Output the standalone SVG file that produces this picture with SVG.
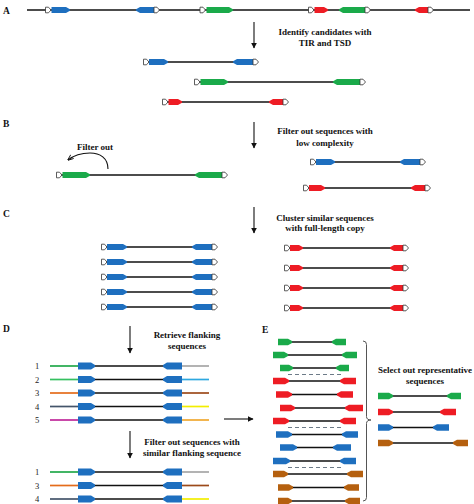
<svg xmlns="http://www.w3.org/2000/svg" width="474" height="504" viewBox="0 0 474 504">
<defs>
<style>
.bg{fill:#fff}
.ln{stroke:#111;stroke-width:1.5;fill:none}
.tsd{fill:#fff;stroke:#333;stroke-width:0.8}
.b{fill:#1e6fbf}
.g{fill:#1aaa4a}
.r{fill:#ee1c24}
.o{fill:#b5600f}
.lbl{font-family:"Liberation Serif",serif;font-weight:bold;font-size:9.5px;fill:#111}
.cap{font-family:"Liberation Serif",serif;font-weight:bold;font-size:9px;fill:#111;text-anchor:middle}
.num{font-family:"Liberation Serif",serif;font-size:8.5px;fill:#222;text-anchor:middle}
.arr{stroke:#111;stroke-width:1.1;fill:none}
.dash{stroke:#6d7b88;stroke-width:1.1;stroke-dasharray:4,3;fill:none}
.fl{stroke-width:1.7;fill:none}
</style>
<marker id="ah" viewBox="0 0 10 10" refX="9" refY="5" markerWidth="6" markerHeight="6" orient="auto" markerUnits="userSpaceOnUse">
<path d="M0,0 L10,5 L0,10 Z" fill="#111"/>
</marker>
<marker id="ah2" viewBox="0 0 10 10" refX="9" refY="5" markerWidth="6" markerHeight="6" orient="auto" markerUnits="userSpaceOnUse">
<path d="M0,1 L10,5 L0,9" fill="none" stroke="#111" stroke-width="1.5"/>
</marker>
</defs>
<rect class="bg" x="0" y="0" width="474" height="504"/>

<!-- Labels -->
<g id="labels">
<text class="lbl" x="3" y="13.5">A</text>
<text class="lbl" x="3" y="126.5">B</text>
<text class="lbl" x="3" y="216.5">C</text>
<text class="lbl" x="3" y="331.5">D</text>
<text class="lbl" x="262" y="332.5">E</text>
</g>

<!-- Connectors -->
<g id="connectors">
<line class="arr" x1="254" y1="22" x2="254" y2="48" marker-end="url(#ah)"/>
<line class="arr" x1="254" y1="122" x2="254" y2="148" marker-end="url(#ah)"/>
<line class="arr" x1="254" y1="207" x2="254" y2="233" marker-end="url(#ah)"/>
<line class="arr" x1="130" y1="326" x2="130" y2="353" marker-end="url(#ah)"/>
<line class="arr" x1="130" y1="431" x2="130" y2="458" marker-end="url(#ah)"/>
<line class="arr" x1="224" y1="419" x2="253" y2="419" marker-end="url(#ah)"/>
<path class="arr" d="M108,169 C108,158 100,153 90,153 C80,153 73,156 68,160" marker-end="url(#ah2)"/>
<path d="M363,341 Q366.5,341 366.5,344.5 V416.5 Q366.5,420 371,420 Q366.5,420 366.5,423.5 V497.5 Q366.5,501 363,501" fill="none" stroke="#555" stroke-width="1"/>
</g>

<!-- Captions -->
<g id="captions">
<text class="cap" x="325" y="35">Identify candidates with</text>
<text class="cap" x="325" y="45.5">TIR and TSD</text>
<text class="cap" x="325" y="133.5">Filter out sequences with</text>
<text class="cap" x="325" y="146">low complexity</text>
<text class="cap" x="95" y="150">Filter out</text>
<text class="cap" x="325" y="220.5">Cluster similar sequences</text>
<text class="cap" x="325" y="231">with full-length copy</text>
<text class="cap" x="187" y="338">Retrieve flanking</text>
<text class="cap" x="187" y="349">sequences</text>
<text class="cap" x="192" y="445">Filter out sequences with</text>
<text class="cap" x="192" y="456">similar flanking sequence</text>
<text class="cap" x="425" y="373">Select out representative</text>
<text class="cap" x="425" y="384">sequences</text>
</g>

<!-- A: genome -->
<g id="genome">
<line class="ln" x1="27" y1="10" x2="470" y2="10"/>
<path class="tsd" d="M45.5,7.2 H48.5 L51,10 L48.5,12.8 H45.5 Z"/>
<path class="b" d="M51.5,7 H66 L70,9.2 V10.8 L66,13 H51.5 Z"/>
<path class="b" d="M154,7 H140 L136,9.2 V10.8 L140,13 H154 Z"/>
<path class="tsd" d="M154,7.2 H157 L159.5,10 L157,12.8 H154 Z"/>
<path class="tsd" d="M200,7.2 H203 L205.5,10 L203,12.8 H200 Z"/>
<path class="g" d="M206.5,7 H229 L233,9.2 V10.8 L229,13 H206.5 Z"/>
<path class="tsd" d="M308.5,7.2 H311.5 L314,10 L311.5,12.8 H308.5 Z"/>
<path class="r" d="M314.5,7 H324 L328,9.2 V10.8 L324,13 H314.5 Z"/>
<path class="g" d="M365,7 H343 L339,9.2 V10.8 L343,13 H365 Z"/>
<path class="tsd" d="M365,7.2 H368 L370.5,10 L368,12.8 H365 Z"/>
<path class="r" d="M428,7 H419 L415,9.2 V10.8 L419,13 H428 Z"/>
<path class="tsd" d="M428,7.2 H431 L433.5,10 L431,12.8 H428 Z"/>
</g>

<!-- A: candidates -->
<g id="cand-blue">
<line class="ln" x1="148" y1="62" x2="254" y2="62"/>
<path class="tsd" d="M143.5,59.2 H146.5 L149,62 L146.5,64.8 H143.5 Z"/>
<path class="b" d="M149,59 H164 L168,61.2 V62.8 L164,65 H149 Z"/>
<path class="b" d="M253,59 H237 L233,61.2 V62.8 L237,65 H253 Z"/>
<path class="tsd" d="M253,59.2 H256 L258.5,62 L256,64.8 H253 Z"/>
</g>
<g id="cand-green">
<line class="ln" x1="199" y1="82" x2="361" y2="82"/>
<path class="tsd" d="M194.5,79.2 H197.5 L200,82 L197.5,84.8 H194.5 Z"/>
<path class="g" d="M200.5,79 H224 L228,81.2 V82.8 L224,85 H200.5 Z"/>
<path class="g" d="M360,79 H337 L333,81.2 V82.8 L337,85 H360 Z"/>
<path class="tsd" d="M360,79.2 H363 L365.5,82 L363,84.8 H360 Z"/>
</g>
<g id="cand-red">
<line class="ln" x1="167" y1="102" x2="284" y2="102"/>
<path class="tsd" d="M162.5,99.2 H165.5 L168,102 L165.5,104.8 H162.5 Z"/>
<path class="r" d="M168.5,99 H178 L182,101.2 V102.8 L178,105 H168.5 Z"/>
<path class="r" d="M283,99 H273 L269,101.2 V102.8 L273,105 H283 Z"/>
<path class="tsd" d="M283,99.2 H286 L288.5,102 L286,104.8 H283 Z"/>
</g>

<!-- B -->
<g id="filtered-green">
<line class="ln" x1="61" y1="175" x2="223" y2="175"/>
<path class="tsd" d="M56.5,172.2 H59.5 L62,175 L59.5,177.8 H56.5 Z"/>
<path class="g" d="M62.5,172 H86 L90,174.2 V175.8 L86,178 H62.5 Z"/>
<path class="g" d="M222,172 H199 L195,174.2 V175.8 L199,178 H222 Z"/>
<path class="tsd" d="M222,172.2 H225 L227.5,175 L225,177.8 H222 Z"/>
</g>
<g id="kept-blue">
<line class="ln" x1="315" y1="162" x2="421" y2="162"/>
<path class="tsd" d="M310.5,159.2 H313.5 L316,162 L313.5,164.8 H310.5 Z"/>
<path class="b" d="M316,159 H331 L335,161.2 V162.8 L331,165 H316 Z"/>
<path class="b" d="M420,159 H404 L400,161.2 V162.8 L404,165 H420 Z"/>
<path class="tsd" d="M420,159.2 H423 L425.5,162 L423,164.8 H420 Z"/>
</g>
<g id="kept-red">
<line class="ln" x1="308" y1="188" x2="426" y2="188"/>
<path class="tsd" d="M303.5,185.2 H306.5 L309,188 L306.5,190.8 H303.5 Z"/>
<path class="r" d="M309,185 H321 L325,187.2 V188.8 L321,191 H309 Z"/>
<path class="r" d="M425,185 H415 L411,187.2 V188.8 L415,191 H425 Z"/>
<path class="tsd" d="M425,185.2 H428 L430.5,188 L428,190.8 H425 Z"/>
</g>

<!-- C: blue cluster -->
<g id="cluster-blue">
<g id="cb1" transform="translate(0,247)">
<line class="ln" x1="106" y1="0" x2="213" y2="0"/>
<path class="tsd" d="M101.5,-2.8 H104.5 L107,0 L104.5,2.8 H101.5 Z"/>
<path class="b" d="M107,-3 H123 L127,-0.8 V0.8 L123,3 H107 Z"/>
<path class="b" d="M212,-3 H196 L192,-0.8 V0.8 L196,3 H212 Z"/>
<path class="tsd" d="M212,-2.8 H215 L217.5,0 L215,2.8 H212 Z"/>
</g>
<use href="#cb1" transform="translate(0,15)"/>
<use href="#cb1" transform="translate(0,30)"/>
<use href="#cb1" transform="translate(0,45)"/>
<use href="#cb1" transform="translate(0,60)"/>
</g>

<!-- C: red cluster -->
<g id="cluster-red">
<g id="cr1" transform="translate(0,248)">
<line class="ln" x1="289" y1="0" x2="404" y2="0"/>
<path class="tsd" d="M284.5,-2.8 H287.5 L290,0 L287.5,2.8 H284.5 Z"/>
<path class="r" d="M290,-3 H299 L303,-0.8 V0.8 L299,3 H290 Z"/>
<path class="r" d="M403,-3 H394 L390,-0.8 V0.8 L394,3 H403 Z"/>
<path class="tsd" d="M403,-2.8 H406 L408.5,0 L406,2.8 H403 Z"/>
</g>
<use href="#cr1" transform="translate(0,20)"/>
<use href="#cr1" transform="translate(0,40)"/>
<use href="#cr1" transform="translate(0,60)"/>
</g>

<!-- D -->
<defs>
<g id="dcore">
<line class="ln" x1="94" y1="0" x2="164" y2="0"/>
<path class="b" d="M78,-3.4 H91 L95,-0.9 V0.9 L91,3.4 H78 Z"/>
<path class="b" d="M182,-3.4 H167 L163,-0.9 V0.9 L167,3.4 H182 Z"/>
</g>
</defs>
<g id="d-row1" transform="translate(0,366)">
<text class="num" x="37" y="3">1</text>
<line class="fl" x1="50" y1="0" x2="79" y2="0" stroke="#22a84a"/>
<line class="fl" x1="181" y1="0" x2="209" y2="0" stroke="#a6a6a6"/>
<use href="#dcore"/>
</g>
<g id="d-row2" transform="translate(0,379.5)">
<text class="num" x="37" y="3">2</text>
<line class="fl" x1="50" y1="0" x2="79" y2="0" stroke="#35c060"/>
<line class="fl" x1="181" y1="0" x2="209" y2="0" stroke="#2ea8e0"/>
<use href="#dcore"/>
</g>
<g id="d-row3" transform="translate(0,393)">
<text class="num" x="37" y="3">3</text>
<line class="fl" x1="50" y1="0" x2="79" y2="0" stroke="#e46c1a"/>
<line class="fl" x1="181" y1="0" x2="209" y2="0" stroke="#9c4a1a"/>
<use href="#dcore"/>
</g>
<g id="d-row4" transform="translate(0,406.5)">
<text class="num" x="37" y="3">4</text>
<line class="fl" x1="50" y1="0" x2="79" y2="0" stroke="#44546a"/>
<line class="fl" x1="181" y1="0" x2="209" y2="0" stroke="#f2ee00"/>
<use href="#dcore"/>
</g>
<g id="d-row5" transform="translate(0,420)">
<text class="num" x="37" y="3">5</text>
<line class="fl" x1="50" y1="0" x2="79" y2="0" stroke="#c0299a"/>
<line class="fl" x1="181" y1="0" x2="209" y2="0" stroke="#f0a830"/>
<use href="#dcore"/>
</g>
<g id="d2-row1" transform="translate(0,472)">
<text class="num" x="37" y="3">1</text>
<line class="fl" x1="50" y1="0" x2="79" y2="0" stroke="#22a84a"/>
<line class="fl" x1="181" y1="0" x2="209" y2="0" stroke="#a6a6a6"/>
<use href="#dcore"/>
</g>
<g id="d2-row3" transform="translate(0,485.5)">
<text class="num" x="37" y="3">3</text>
<line class="fl" x1="50" y1="0" x2="79" y2="0" stroke="#e46c1a"/>
<line class="fl" x1="181" y1="0" x2="209" y2="0" stroke="#9c4a1a"/>
<use href="#dcore"/>
</g>
<g id="d2-row4" transform="translate(0,499)">
<text class="num" x="37" y="3">4</text>
<line class="fl" x1="50" y1="0" x2="79" y2="0" stroke="#44546a"/>
<line class="fl" x1="181" y1="0" x2="209" y2="0" stroke="#f2ee00"/>
<use href="#dcore"/>
</g>

<!-- E: families -->
<g id="e-green">
<line class="ln" x1="290" y1="342" x2="334" y2="342"/>
<path class="g" d="M278,338.7 H288 L292,341.1 V342.9 L288,345.3 H278 Z"/>
<path class="g" d="M346,338.7 H336 L332,341.1 V342.9 L336,345.3 H346 Z"/>
<line class="ln" x1="286" y1="355" x2="344" y2="355"/>
<path class="g" d="M273,351.7 H284 L288,354.1 V355.9 L284,358.3 H273 Z"/>
<path class="g" d="M357,351.7 H346 L342,354.1 V355.9 L346,358.3 H357 Z"/>
<line class="ln" x1="291" y1="368" x2="338" y2="368"/>
<path class="g" d="M280,364.7 H289 L293,367.1 V368.9 L289,371.3 H280 Z"/>
<path class="g" d="M349,364.7 H340 L336,367.1 V368.9 L340,371.3 H349 Z"/>
</g>
<line class="dash" x1="288" y1="374.5" x2="342" y2="374.5"/>
<g id="e-red">
<line class="ln" x1="287" y1="381" x2="342" y2="381"/>
<path class="r" d="M273,377.7 H285 L289,380.1 V381.9 L285,384.3 H273 Z"/>
<path class="r" d="M356,377.7 H344 L340,380.1 V381.9 L344,384.3 H356 Z"/>
<line class="ln" x1="290" y1="394.5" x2="339" y2="394.5"/>
<path class="r" d="M276,391.2 H288 L292,393.6 V395.4 L288,397.8 H276 Z"/>
<path class="r" d="M353,391.2 H341 L337,393.6 V395.4 L341,397.8 H353 Z"/>
<line class="ln" x1="293" y1="408" x2="347" y2="408"/>
<path class="r" d="M280,404.7 H291 L295,407.1 V408.9 L291,411.3 H280 Z"/>
<path class="r" d="M363,404.7 H349 L345,407.1 V408.9 L349,411.3 H363 Z"/>
<line class="ln" x1="287" y1="421" x2="342" y2="421"/>
<path class="r" d="M273,417.7 H285 L289,420.1 V421.9 L285,424.3 H273 Z"/>
<path class="r" d="M356,417.7 H344 L340,420.1 V421.9 L344,424.3 H356 Z"/>
</g>
<line class="dash" x1="288" y1="427.5" x2="342" y2="427.5"/>
<g id="e-blue">
<line class="ln" x1="290" y1="434.5" x2="344" y2="434.5"/>
<path class="b" d="M276,431.2 H288 L292,433.6 V435.4 L288,437.8 H276 Z"/>
<path class="b" d="M358,431.2 H346 L342,433.6 V435.4 L346,437.8 H358 Z"/>
<line class="ln" x1="295" y1="447.5" x2="335" y2="447.5"/>
<path class="b" d="M280,444.2 H293 L297,446.6 V448.4 L293,450.8 H280 Z"/>
<path class="b" d="M351,444.2 H337 L333,446.6 V448.4 L337,450.8 H351 Z"/>
<line class="ln" x1="288" y1="461" x2="342" y2="461"/>
<path class="b" d="M273,457.7 H286 L290,460.1 V461.9 L286,464.3 H273 Z"/>
<path class="b" d="M356,457.7 H344 L340,460.1 V461.9 L344,464.3 H356 Z"/>
</g>
<line class="dash" x1="288" y1="467.5" x2="342" y2="467.5"/>
<g id="e-brown">
<line class="ln" x1="286" y1="474" x2="349" y2="474"/>
<path class="o" d="M273,470.7 H284 L288,473.1 V474.9 L284,477.3 H273 Z"/>
<path class="o" d="M363,470.7 H351 L347,473.1 V474.9 L351,477.3 H363 Z"/>
<line class="ln" x1="291" y1="487.5" x2="346" y2="487.5"/>
<path class="o" d="M278,484.2 H289 L293,486.6 V488.4 L289,490.8 H278 Z"/>
<path class="o" d="M359,484.2 H348 L344,486.6 V488.4 L348,490.8 H359 Z"/>
<line class="ln" x1="290" y1="501" x2="347" y2="501"/>
<path class="o" d="M278,497.7 H288 L292,500.1 V501.9 L288,504.3 H278 Z"/>
<path class="o" d="M360,497.7 H349 L345,500.1 V501.9 L349,504.3 H360 Z"/>
</g>

<!-- E: representatives -->
<g id="rep-green">
<line class="ln" x1="391" y1="396" x2="449" y2="396"/>
<path class="g" d="M378,392.7 H389 L393,395.1 V396.9 L389,399.3 H378 Z"/>
<path class="g" d="M461,392.7 H451 L447,395.1 V396.9 L451,399.3 H461 Z"/>
</g>
<g id="rep-red">
<line class="ln" x1="391" y1="412" x2="442" y2="412"/>
<path class="r" d="M378,408.7 H389 L393,411.1 V412.9 L389,415.3 H378 Z"/>
<path class="r" d="M456,408.7 H444 L440,411.1 V412.9 L444,415.3 H456 Z"/>
</g>
<g id="rep-blue">
<line class="ln" x1="391" y1="427.5" x2="435" y2="427.5"/>
<path class="b" d="M378,424.2 H389 L393,426.6 V428.4 L389,430.8 H378 Z"/>
<path class="b" d="M449,424.2 H437 L433,426.6 V428.4 L437,430.8 H449 Z"/>
</g>
<g id="rep-brown">
<line class="ln" x1="391" y1="443" x2="455" y2="443"/>
<path class="o" d="M378,439.7 H389 L393,442.1 V443.9 L389,446.3 H378 Z"/>
<path class="o" d="M468,439.7 H457 L453,442.1 V443.9 L457,446.3 H468 Z"/>
</g>
</svg>
